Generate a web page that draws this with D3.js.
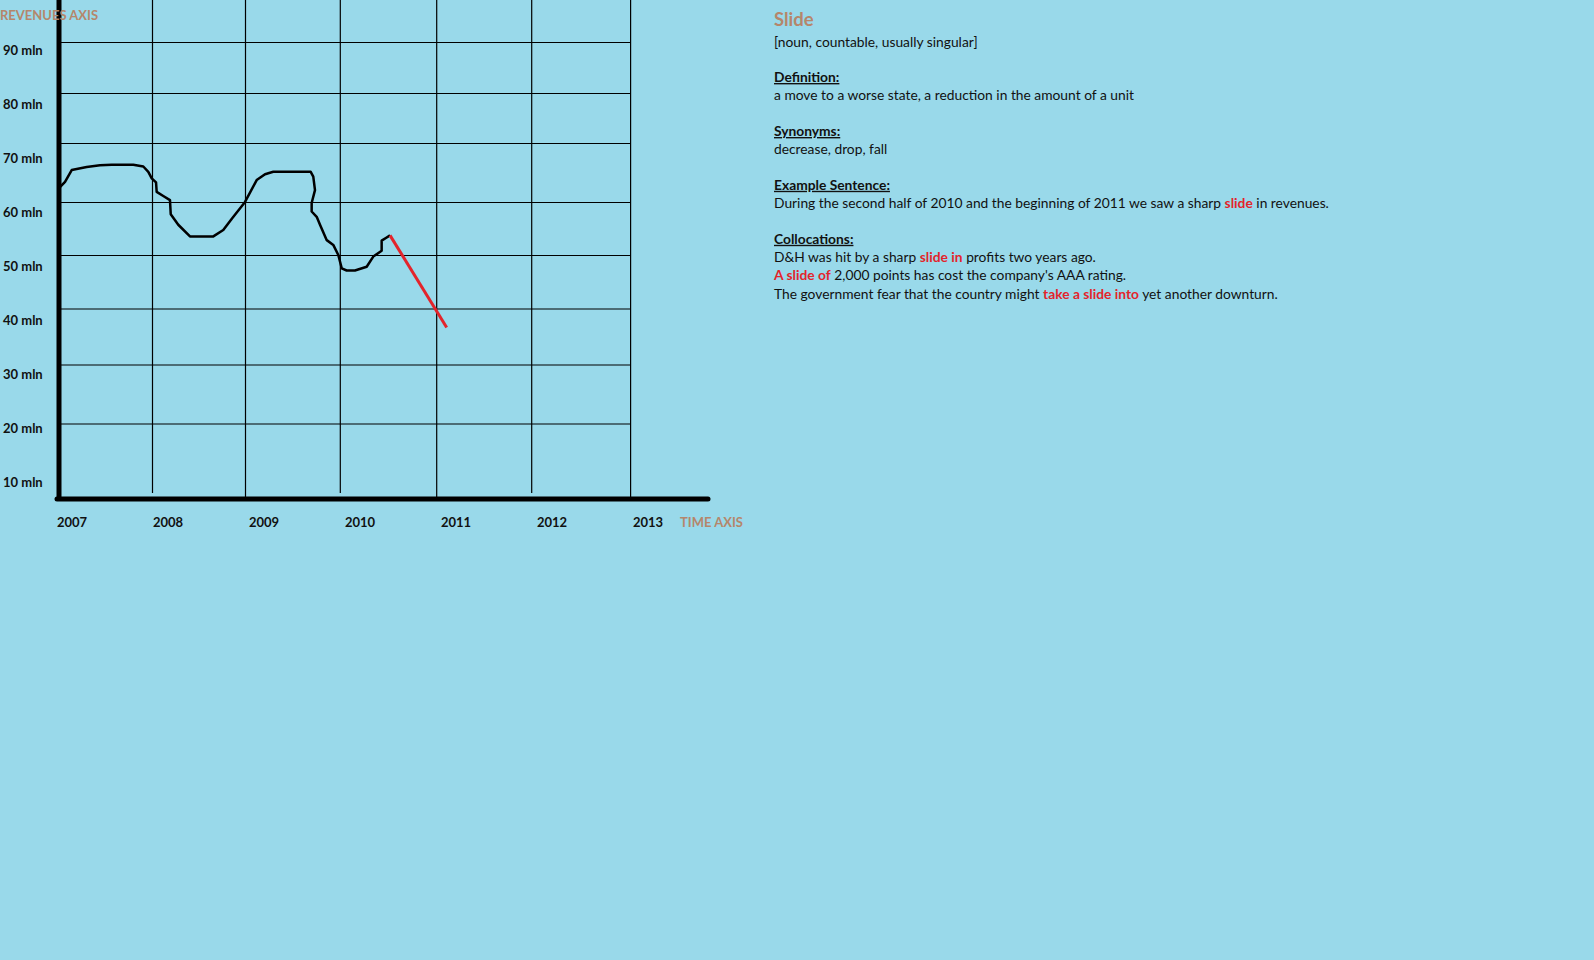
<!DOCTYPE html>
<html>
<head>
<meta charset="utf-8">
<script src="https://cdn.jsdelivr.net/npm/d3@7"></script>
<style>
  html, body { margin: 0; padding: 0; background: #99d9ea; }
  svg { display: block; }
  text { font-family: Lato, "Open Sans", sans-serif; }
</style>
</head>
<body>
<div id="chart"></div>
<script>
// revenue curve (year, mln)
var years = [2007.031, 2007.084, 2007.154, 2007.311, 2007.450, 2007.573, 2007.799, 2007.904, 2007.956, 2007.992,
             2008.038, 2008.045, 2008.116, 2008.188, 2008.196, 2008.277, 2008.403, 2008.654, 2008.761, 2008.855,
             2008.995, 2009.118, 2009.206, 2009.293, 2009.688, 2009.715, 2009.733, 2009.698, 2009.698, 2009.751,
             2009.786, 2009.857, 2009.926, 2009.979, 2010.015, 2010.066, 2010.152, 2010.274, 2010.342, 2010.429,
             2010.429, 2010.481, 2010.516];
var revenues = [62.6, 63.5, 65.5, 66.0, 66.3, 66.4, 66.4, 66.1, 65.2, 64.1,
                63.4, 61.8, 61.1, 60.4, 57.8, 55.8, 53.6, 53.6, 54.8, 57.0,
                60.1, 63.8, 64.8, 65.2, 65.2, 64.4, 62.1, 59.9, 58.3, 57.3,
                55.8, 52.9, 52.0, 50.1, 47.6, 47.2, 47.2, 47.9, 49.8, 50.9,
                52.8, 53.4, 53.8];
// the slide (red part)
var slideYears = [2010.516, 2011.105];
var slideRevenues = [53.8, 36.7];

var yearTicks = [2007, 2008, 2009, 2010, 2011, 2012, 2013];
var gridYears = [2008, 2009, 2010, 2011, 2012, 2013];
var revenueTicks = [90, 80, 70, 60, 50, 40, 30, 20, 10];
var gridRevenues = [90, 80, 70, 60, 50, 40, 30, 20];

var brown = "#b5866b", red = "#e3242b";

var svg = d3.select("#chart")
            .append("svg")
            .attr("width", 1594)
            .attr("height", 960);

// the grid was drawn by hand, so the scales follow it piece by piece
var x = d3.scaleLinear()
          .domain([2007, 2008, 2009, 2010, 2011, 2012, 2013])
          .range([57, 152.5, 245.5, 340.3, 436.7, 531.7, 630.6]);
var y = d3.scaleLinear()
          .domain([20, 30, 40, 50, 60, 70, 80, 90])
          .range([424, 365, 309, 255.5, 202.5, 143.5, 93.5, 42.5]);
// the labels are evenly spaced
var xLabel = d3.scaleLinear().domain([2007, 2013]).range([57, 633]);
var yLabel = d3.scaleLinear().domain([10, 90]).range([484, 52]);
var axisY = 499, axisX = 59;

// grid
svg.append("g").selectAll("line").data(gridRevenues).join("line")
   .attr("x1", axisX).attr("x2", x(2013))
   .attr("y1", d => y(d)).attr("y2", d => y(d))
   .attr("stroke", "#000").attr("stroke-width", 1.2);

svg.append("g").selectAll("line").data(gridYears).join("line")
   .attr("x1", d => x(d)).attr("x2", d => x(d))
   .attr("y1", 0).attr("y2", (d, i) => i % 2 ? axisY : axisY - 6)
   .attr("stroke", "#000").attr("stroke-width", 1.2);

// axes (thick)
svg.append("line")
   .attr("x1", axisX).attr("x2", axisX).attr("y1", 0).attr("y2", axisY + 2)
   .attr("stroke", "#000").attr("stroke-width", 5);
svg.append("line")
   .attr("x1", axisX - 2).attr("x2", 708).attr("y1", axisY).attr("y2", axisY)
   .attr("stroke", "#000").attr("stroke-width", 5).attr("stroke-linecap", "round");

// tick labels
svg.append("g").selectAll("text").data(revenueTicks).join("text")
   .attr("x", 3).attr("y", d => yLabel(d))
   .attr("dominant-baseline", "middle")
   .attr("font-size", 13).attr("font-weight", "bold").attr("fill", "#111")
   .text(d => d + " mln");

svg.append("g").selectAll("text").data(yearTicks).join("text")
   .attr("x", d => xLabel(d)).attr("y", 524)
   .attr("dominant-baseline", "middle")
   .attr("font-size", 13).attr("font-weight", "bold").attr("fill", "#111")
   .text(d => d);

svg.append("text").attr("x", 0).attr("y", 16.5).attr("dominant-baseline", "middle")
   .attr("font-size", 13).attr("font-weight", "bold").attr("fill", brown)
   .text("REVENUES AXIS");
svg.append("text").attr("x", 680).attr("y", 524).attr("dominant-baseline", "middle")
   .attr("font-size", 13).attr("font-weight", "bold").attr("fill", brown)
   .text("TIME AXIS");

// lines
var line = d3.line().x(d => x(d[0])).y(d => y(d[1]));

svg.append("path")
   .datum(d3.zip(years, revenues))
   .attr("d", line)
   .attr("fill", "none").attr("stroke", "#000").attr("stroke-width", 2.5)
   .attr("stroke-linejoin", "round");

svg.append("path")
   .datum(d3.zip(slideYears, slideRevenues))
   .attr("d", line)
   .attr("fill", "none").attr("stroke", red).attr("stroke-width", 3);

// dictionary entry
var tx = 774;
var entry = [
  { y: 42.5, parts: [["[noun, countable, usually singular]"]] },
  { y: 78, head: true, parts: [["Definition:"]] },
  { y: 96.3, parts: [["a move to a worse state, a reduction in the amount of a unit"]] },
  { y: 132, head: true, parts: [["Synonyms:"]] },
  { y: 150.3, parts: [["decrease, drop, fall"]] },
  { y: 185.8, head: true, parts: [["Example Sentence:"]] },
  { y: 204, parts: [["During the second half of 2010 and the beginning of 2011 we saw a sharp "], ["slide", 1], [" in revenues."]] },
  { y: 239.8, head: true, parts: [["Collocations:"]] },
  { y: 258, parts: [["D&H was hit by a sharp "], ["slide in", 1], [" profits two years ago."]] },
  { y: 276.3, parts: [["A slide of", 1], [" 2,000 points has cost the company's AAA rating."]] },
  { y: 294.5, parts: [["The government fear that the country might "], ["take a slide into", 1], [" yet another downturn."]] }
];

svg.append("text").attr("x", tx).attr("y", 21.5).attr("dominant-baseline", "middle")
   .attr("font-size", 18.5).attr("font-weight", "bold").attr("fill", brown)
   .text("Slide");

var rows = svg.append("g").selectAll("text").data(entry).join("text")
   .attr("x", tx).attr("y", d => d.y)
   .attr("dominant-baseline", "middle")
   .attr("font-size", 13.8).attr("fill", "#111")
   .attr("font-weight", d => d.head ? "bold" : null)
   .attr("text-decoration", d => d.head ? "underline" : null);

rows.selectAll("tspan").data(d => d.parts).join("tspan")
   .attr("fill", p => p[1] ? red : null)
   .attr("font-weight", p => p[1] ? "bold" : null)
   .text(p => p[0]);
</script>
</body>
</html>
